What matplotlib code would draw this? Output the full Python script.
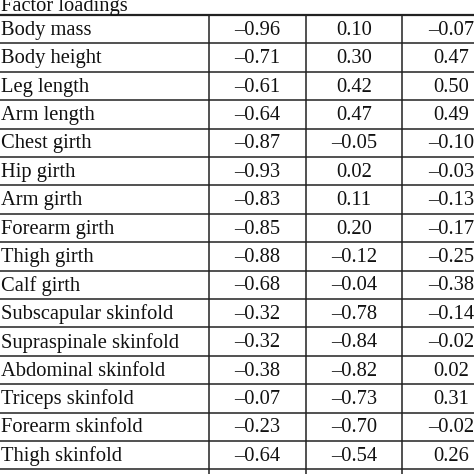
import matplotlib
matplotlib.use("Agg")
import matplotlib.pyplot as plt

labels = ["Body mass", "Body height", "Leg length", "Arm length", "Chest girth", "Hip girth",
          "Arm girth", "Forearm girth", "Thigh girth", "Calf girth", "Subscapular skinfold",
          "Supraspinale skinfold", "Abdominal skinfold", "Triceps skinfold", "Forearm skinfold",
          "Thigh skinfold"]
f1 = ["–0.96", "–0.71", "–0.61", "–0.64", "–0.87", "–0.93", "–0.83", "–0.85", "–0.88", "–0.68",
      "–0.32", "–0.32", "–0.38", "–0.07", "–0.23", "–0.64"]
f2 = ["0.10", "0.30", "0.42", "0.47", "–0.05", "0.02", "0.11", "0.20", "–0.12", "–0.04",
      "–0.78", "–0.84", "–0.82", "–0.73", "–0.70", "–0.54"]
f3 = ["–0.07", "0.47", "0.50", "0.49", "–0.10", "–0.03", "–0.13", "–0.17", "–0.25", "–0.38",
      "–0.14", "–0.02", "0.02", "0.31", "–0.02", "0.26"]
header = "Factor loadings"

fig = plt.figure(figsize=(4.74, 4.74), dpi=100)
ax = fig.add_axes([0, 0, 1, 1])
ax.set_xlim(0, 474); ax.set_ylim(474, 0); ax.axis("off")
font = dict(family="Liberation Serif", fontsize=14.8, color="#111")

top, h = 15, 28.4
xs = [0, 209, 306, 402, 500]
n = len(labels)
ax.text(1, top + 1, header, va="bottom", ha="left", **font)
for i in range(n + 2):
    y = top + i * h
    ax.plot([0, 474], [y, y], color="#222", lw=1.6 if i == 0 else 1.1)
for x in xs[1:4]:
    ax.plot([x, x], [top, 474], color="#222", lw=1.1)
for i in range(n):
    yc = top + (i + 0.5) * h + 1
    ax.text(1, yc, labels[i], va="center", ha="left", **font)
    for j, col in enumerate([f1, f2, f3]):
        ax.text((xs[j + 1] + xs[j + 2]) / 2, yc, col[i], va="center", ha="center", **font)
fig.savefig("out.png", dpi=100)
